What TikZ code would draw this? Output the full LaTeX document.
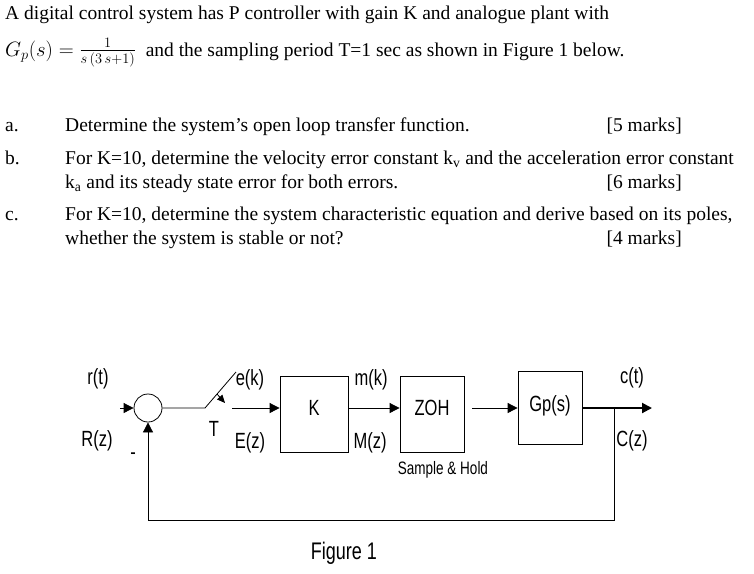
\documentclass[tikz,border=0pt]{standalone}
\usepackage{amsmath}
\usepackage{fontspec}
\setmainfont{Liberation Serif}
\newfontfamily\diagfont{Liberation Sans}
\usetikzlibrary{arrows.meta}
\tikzset{
  txt/.style={anchor=base west,inner sep=0pt,font=\fontsize{19.5}{22}\selectfont},
  marks/.style={anchor=base east,inner sep=0pt,font=\fontsize{19.5}{22}\selectfont},
  lbl/.style={inner sep=0pt,font=\diagfont\fontsize{22}{24}\selectfont,xscale=0.75},
  blk/.style={draw,line width=0.8pt},
  sig/.style={line width=0.8pt,-{Triangle[length=10pt,width=10pt]}},
}
\begin{document}
\begin{tikzpicture}[x=1pt,y=-1pt]
  \useasboundingbox (0,0) rectangle (754,573);

  % question text
  \node[txt] (l1) at (5,19) {A digital control system has P controller with gain K and analogue plant with};
  \node[txt] (l2) at (5,56) {$G_p(s)=\frac{1}{s\,(3\,s+1)}$\ \ and the sampling period T=1 sec as shown in Figure 1 below.};
  \node[txt] (qa) at (5,131) {a.};
  \node[txt] (ta) at (65,131) {Determine the system's open loop transfer function.};
  \node[marks] (ma) at (682,131) {[5 marks]};
  \node[txt] (qb) at (5,164) {b.};
  \node[txt] (tb) at (65,164) {For K=10, determine the velocity error constant k\textsubscript{v} and the acceleration error constant};
  \node[txt] (tb2) at (65,188) {k\textsubscript{a} and its steady state error for both errors.};
  \node[marks] (mb) at (682,188) {[6 marks]};
  \node[txt] (qc) at (5,220) {c.};
  \node[txt] (tc) at (65,220) {For K=10, determine the system characteristic equation and derive based on its poles,};
  \node[txt] (tc2) at (65,244) {whether the system is stable or not?};
  \node[marks] (mc) at (682,244) {[4 marks]};

  % block diagram
  \coordinate (in) at (120,408);
  \node[draw,circle,line width=0.8pt,minimum size=28pt,inner sep=0pt] (sum) at (148,408) {};
  \coordinate (swa) at (205,408);
  \coordinate (swb) at (236,372);
  \coordinate (swc) at (232,408);
  \node[blk,minimum width=68pt,minimum height=76pt] (k) at (314,414) {};
  \node[lbl] at (314,408) {K};
  \node[blk,minimum width=64pt,minimum height=76pt] (zoh) at (432,414) {};
  \node[lbl] at (432,408) {ZOH};
  \node[blk,minimum width=64pt,minimum height=73pt] (gp) at (550,408) {};
  \node[lbl] at (550,406) {Gp(s)};
  \coordinate (out) at (652,408);
  \coordinate (br) at (614,408);
  \coordinate (fb) at (614,520);
  \coordinate (fbl) at (148,520);

  \draw[sig] (in) -- (sum);
  \draw[line width=0.8pt] (sum) -- (swa) -- (swb);
  \draw[line width=0.8pt,-{Triangle[length=8pt,width=7pt]}] (217,394) -- (225,403);
  \draw[sig] (swc) -- (k.west |- swc);
  \draw[sig] (k.east |- swc) -- (zoh.west |- swc);
  \draw[sig] (472,408) -- (gp.west);
  \draw[sig,line width=2pt] (gp.east) -- (out);
  \draw[sig] (br) -- (fb) -- (fbl) -- (sum.south);

  \node[lbl] at (98,379) {r(t)};
  \node[lbl] at (97,441) {R(z)};
  \node[lbl] at (133,456) {-};
  \node[lbl] at (250,380) {e(k)};
  \node[lbl] at (214,429) {T};
  \node[lbl] at (250,443) {E(z)};
  \node[lbl] at (371,380) {m(k)};
  \node[lbl] at (370,443) {M(z)};
  \node[lbl,font=\diagfont\fontsize{18}{20}\selectfont] at (443,470) {Sample \& Hold};
  \node[lbl] at (632,378) {c(t)};
  \node[lbl] at (632,441) {C(z)};
  \node[lbl,font=\diagfont\fontsize{24}{26}\selectfont] at (344,553) {Figure 1};
\end{tikzpicture}
\end{document}
